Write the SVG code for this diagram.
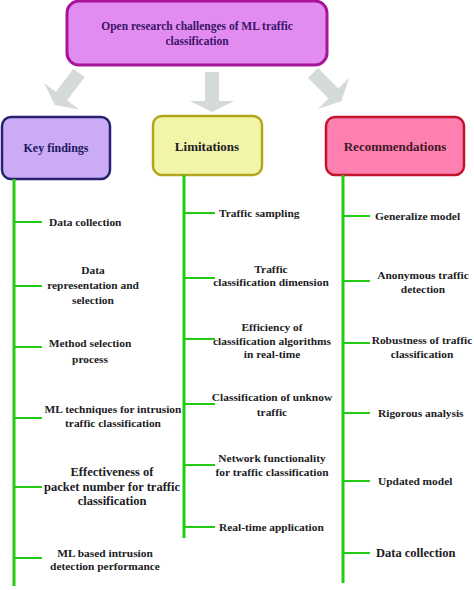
<svg xmlns="http://www.w3.org/2000/svg" width="474" height="590" viewBox="0 0 474 590">
<style>
text{font-family:'Liberation Serif','Times New Roman',Times,serif;font-weight:bold;fill:#1c1c24;text-anchor:middle}
.s{font-size:11.4px}
.b{font-size:12.5px}
.l{text-anchor:start}
.trunk{stroke:#22cc14;stroke-width:3;fill:none}
.br{stroke:#22cc14;stroke-width:2;fill:none}
.arr{fill:#d4d9d9}
</style>
<defs>
<polygon id="ba" points="-7,0 7,0 7,29 22,29 0,40 -22,29 -7,29"/>
</defs>
<g id="top">
<rect x="67" y="1" width="260" height="64" rx="12" fill="#e28cf2" stroke="#a8149a" stroke-width="3"/>
<text x="197" y="30" style="font-size:11.5px;fill:#3a1466">Open research challenges of ML traffic</text>
<text x="197" y="45" style="font-size:11.5px;fill:#3a1466">classification</text>
</g>
<g id="arrows">
<use href="#ba" class="arr" transform="translate(79,73) rotate(37)"/>
<use href="#ba" class="arr" transform="translate(212,72)"/>
<use href="#ba" class="arr" transform="translate(313,73) rotate(-45)"/>
</g>
<g id="key">
<rect x="2" y="117" width="108" height="62" rx="9" fill="#cbabf5" stroke="#28206e" stroke-width="2.5"/>
<text x="56" y="152" style="font-size:12px;fill:#22185e">Key findings</text>
</g>
<g id="lim">
<rect x="153" y="116" width="109" height="59" rx="9" fill="#f2f5a8" stroke="#b4a61c" stroke-width="2.5"/>
<text x="207" y="151" style="font-size:13px">Limitations</text>
</g>
<g id="rec">
<rect x="326" y="117" width="138" height="58" rx="9" fill="#fe80b1" stroke="#c4132c" stroke-width="2.5"/>
<text x="395" y="151" style="font-size:13px;fill:#3e1a26">Recommendations</text>
</g>
<g id="connectors">
<path class="trunk" d="M14,179V586M184,175V538M343,175V583"/>
<path class="br" d="M14,222H42M14,286H42M14,347H42M14,418H42M14,487H42M14,558H42"/>
<path class="br" d="M184,213H215M184,278H215M184,339H215M184,404H215M184,465H215M184,527H215"/>
<path class="br" d="M343,216H370M343,281H370M343,343H370M343,413H370M343,481H370M343,553H370"/>
</g>
<g id="k1"><text class="s l" x="49" y="226">Data collection</text></g>
<g id="k2"><text class="s" x="93" y="274">Data</text><text class="s" x="93" y="289">representation and</text><text class="s" x="93" y="304">selection</text></g>
<g id="k3"><text class="s" x="90" y="347">Method selection</text><text class="s" x="90" y="363">process</text></g>
<g id="k4"><text class="s" x="113" y="413">ML techniques for intrusion</text><text class="s" x="113" y="427">traffic classification</text></g>
<g id="k5"><text class="b" x="112" y="476">Effectiveness of</text><text class="b" x="112" y="491">packet number for traffic</text><text class="b" x="112" y="505">classification</text></g>
<g id="k6"><text class="s" x="105" y="557">ML based intrusion</text><text class="s" x="105" y="570">detection performance</text></g>
<g id="l1"><text class="s l" x="219" y="217">Traffic sampling</text></g>
<g id="l2"><text class="s" x="271" y="273">Traffic</text><text class="s" x="271" y="286">classification dimension</text></g>
<g id="l3"><text class="s" x="272" y="331">Efficiency of</text><text class="s" x="272" y="345">classification algorithms</text><text class="s" x="272" y="358">in real-time</text></g>
<g id="l4"><text class="s" x="272" y="401">Classification of unknow</text><text class="s" x="272" y="416">traffic</text></g>
<g id="l5"><text class="s" x="272" y="462">Network functionality</text><text class="s" x="272" y="476">for traffic classification</text></g>
<g id="l6"><text class="s l" x="219" y="531">Real-time application</text></g>
<g id="r1"><text class="s l" x="375" y="220">Generalize model</text></g>
<g id="r2"><text class="s" x="423" y="279">Anonymous traffic</text><text class="s" x="423" y="293">detection</text></g>
<g id="r3"><text class="s" x="422" y="344">Robustness of traffic</text><text class="s" x="422" y="358">classification</text></g>
<g id="r4"><text class="s l" x="378" y="417">Rigorous analysis</text></g>
<g id="r5"><text class="s l" x="378" y="485">Updated model</text></g>
<g id="r6"><text class="l" style="font-size:12.5px" x="376" y="557">Data collection</text></g>
</svg>
